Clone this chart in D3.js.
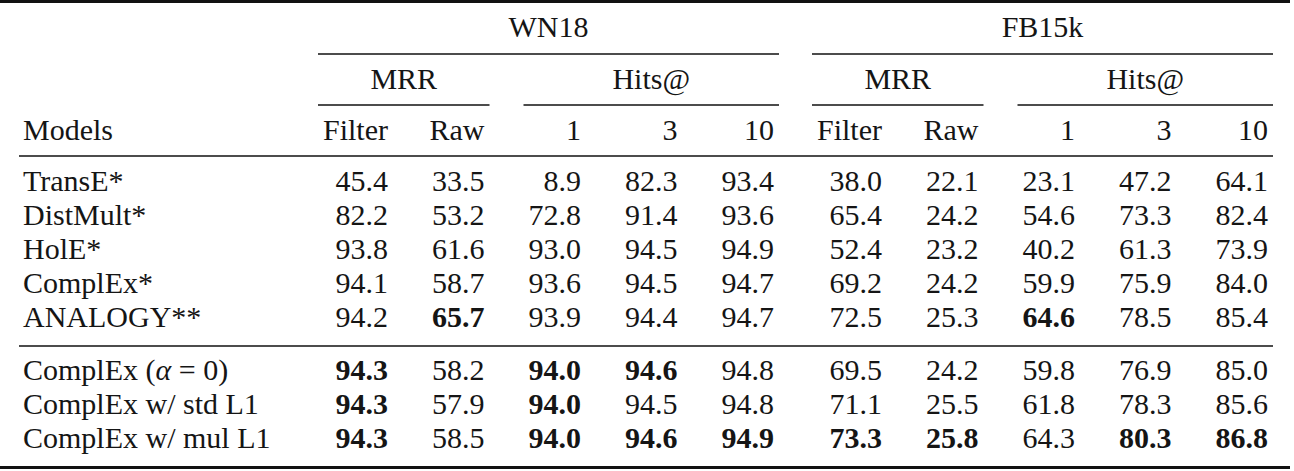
<!DOCTYPE html>
<html>
<head>
<meta charset="utf-8">
<script src="https://cdn.jsdelivr.net/npm/d3@7"></script>
<style>
  body { margin: 0; background: #fff; }
  text { font-family: "Liberation Serif", "Times New Roman", serif; font-size: 30px; fill: #151515; }
</style>
</head>
<body>
<script>
// table content
var datasets = ["WN18", "FB15k"];
var mrrCols = ["Filter", "Raw"];
var hitsCols = ["1", "3", "10"];
var models = ["TransE*", "DistMult*", "HolE*", "ComplEx*", "ANALOGY**",
              "ComplEx (\u03b1 = 0)", "ComplEx w/ std L1", "ComplEx w/ mul L1"];
var wn18Values = [
  [45.4, 33.5, 8.9, 82.3, 93.4],
  [82.2, 53.2, 72.8, 91.4, 93.6],
  [93.8, 61.6, 93.0, 94.5, 94.9],
  [94.1, 58.7, 93.6, 94.5, 94.7],
  [94.2, 65.7, 93.9, 94.4, 94.7],
  [94.3, 58.2, 94.0, 94.6, 94.8],
  [94.3, 57.9, 94.0, 94.5, 94.8],
  [94.3, 58.5, 94.0, 94.6, 94.9]
];
var fb15kValues = [
  [38.0, 22.1, 23.1, 47.2, 64.1],
  [65.4, 24.2, 54.6, 73.3, 82.4],
  [52.4, 23.2, 40.2, 61.3, 73.9],
  [69.2, 24.2, 59.9, 75.9, 84.0],
  [72.5, 25.3, 64.6, 78.5, 85.4],
  [69.5, 24.2, 59.8, 76.9, 85.0],
  [71.1, 25.5, 61.8, 78.3, 85.6],
  [73.3, 25.8, 64.3, 80.3, 86.8]
];
// column indexes printed in bold, per model
var wn18Bold = [[], [], [], [], [1], [0, 2, 3], [0, 2], [0, 2, 3, 4]];
var fb15kBold = [[], [], [], [], [2], [], [], [0, 1, 3, 4]];
var firstBlock = 5; // rows above the mid rule

var width = 1294, height = 471;
var metricCols = mrrCols.concat(hitsCols);
var fmt = d3.format(".1f");

var svg = d3.select("body").append("svg")
    .attr("width", width)
    .attr("height", height);

// x: right edge of each numeric column
var xData = d3.scalePoint().domain(datasets).range([388, 882]);
var xCol = d3.scalePoint().domain(metricCols).range([0, 386]);
var colX = function(ds, c){ return xData(ds) + xCol(c); };

// y: baselines
var headY = d3.scaleLinear().domain([0, 2]).range([37, 140]);
var rowY = d3.scaleLinear().domain([0, 1]).range([191, 225]);
var ruleGap = 19;
var bodyY = function(i){ return rowY(i) + (i >= firstBlock ? ruleGap : 0); };

function rule(x1, x2, y, w){
  svg.append("line")
    .attr("x1", x1).attr("x2", x2)
    .attr("y1", y).attr("y2", y)
    .attr("stroke", "#111")
    .attr("stroke-width", w);
}

// header: column labels row
svg.append("text")
  .attr("x", 23).attr("y", headY(2))
  .text("Models");

var valueSets = {"WN18": wn18Values, "FB15k": fb15kValues};
var boldSets = {"WN18": wn18Bold, "FB15k": fb15kBold};

datasets.forEach(function(ds){
  // body cells
  var vals = valueSets[ds], bold = boldSets[ds];
  var cells = [];
  vals.forEach(function(row, i){
    row.forEach(function(v, j){
      cells.push({row: i, col: metricCols[j], v: v, b: bold[i].indexOf(j) >= 0});
    });
  });
  svg.selectAll("text.cell-" + ds)
    .data(cells).enter()
    .append("text")
    .attr("class", "cell-" + ds)
    .attr("x", function(d){ return colX(ds, d.col); })
    .attr("y", function(d){ return bodyY(d.row); })
    .attr("text-anchor", "end")
    .attr("font-weight", function(d){ return d.b ? "bold" : null; })
    .text(function(d){ return fmt(d.v); });

  // column headers
  svg.selectAll("text.colhead-" + ds)
    .data(metricCols).enter()
    .append("text")
    .attr("class", "colhead-" + ds)
    .attr("x", function(c){ return colX(ds, c); })
    .attr("y", headY(2))
    .attr("text-anchor", "end")
    .text(function(c){ return c; });
});

// column widths (widest entry) for the cmidrule trims
var colWidth = {};
datasets.forEach(function(ds){
  metricCols.forEach(function(c){
    var w = 0;
    svg.selectAll("text.cell-" + ds + ", text.colhead-" + ds)
      .filter(function(d){ return (d.col || d) === c; })
      .each(function(){ w = Math.max(w, this.getBBox().width); });
    colWidth[ds + c] = w;
  });
});

var trim = 5;
datasets.forEach(function(ds){
  var groups = [{name: "MRR", cols: mrrCols}, {name: "Hits@", cols: hitsCols}];
  var spans = groups.map(function(g){
    var first = g.cols[0], last = g.cols[g.cols.length - 1];
    var x1 = colX(ds, first) - colWidth[ds + first] - trim;
    var x2 = colX(ds, last) + trim;
    return {name: g.name, x1: x1, x2: x2};
  });
  spans.forEach(function(s){
    rule(s.x1, s.x2, 105, 1.4);
    svg.append("text")
      .attr("x", (s.x1 + s.x2) / 2).attr("y", headY(1))
      .attr("text-anchor", "middle")
      .text(s.name);
  });
  var d1 = spans[0].x1, d2 = spans[1].x2;
  rule(d1, d2, 54, 1.4);
  svg.append("text")
    .attr("x", (d1 + d2) / 2).attr("y", headY(0))
    .attr("text-anchor", "middle")
    .text(ds);
});

// model names
svg.selectAll("text.model")
  .data(models).enter()
  .append("text")
  .attr("class", "model")
  .attr("x", 23)
  .attr("y", function(d, i){ return bodyY(i); })
  .each(function(d){
    var t = d3.select(this);
    var k = d.indexOf("\u03b1");
    if (k < 0) { t.text(d); return; }
    t.append("tspan").text(d.slice(0, k));
    t.append("tspan").attr("font-style", "italic").text("\u03b1");
    t.append("tspan").text(d.slice(k + 1).replace(" = ", "\u2005=\u2005"));
  });

// rules
rule(0, 1290, 1.5, 3);
rule(19, 1273, 156, 1.4);
rule(19, 1273, rowY(firstBlock - 1) + ruleGap, 1.4);
rule(0, 1290, 467.5, 3);
</script>
</body>
</html>
